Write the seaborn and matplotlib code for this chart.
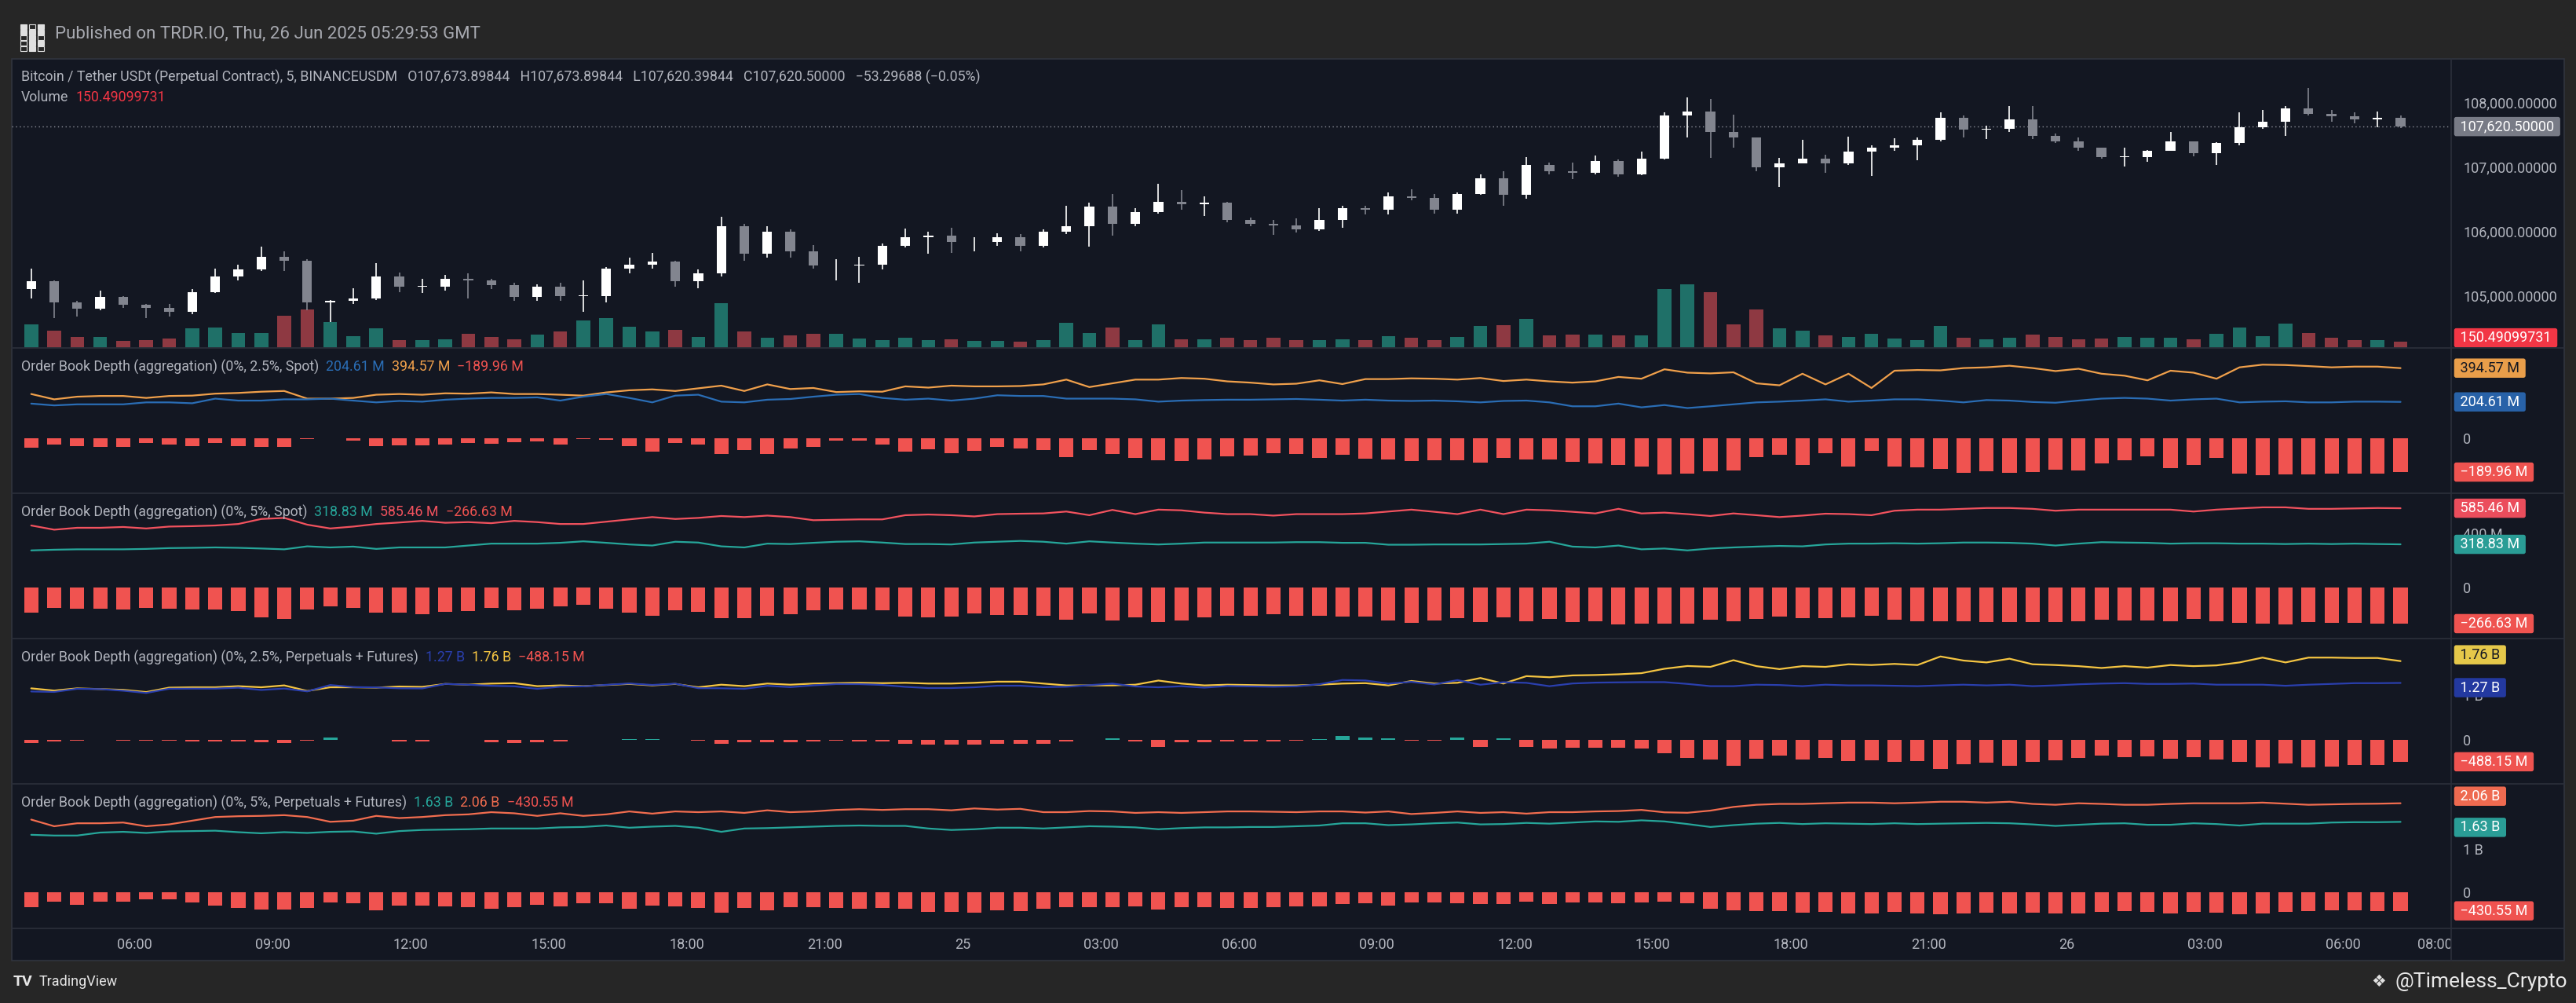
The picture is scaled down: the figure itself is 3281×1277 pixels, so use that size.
import numpy as np
import pandas as pd
import seaborn as sns
import matplotlib
matplotlib.use("Agg")
import matplotlib.pyplot as plt
import matplotlib.dates as mdates
from matplotlib.lines import Line2D
from matplotlib.patches import Rectangle
from matplotlib.transforms import blended_transform_factory, offset_copy

# BTCUSDT perp in 30 minute buckets (24 Jun 03:30 -> 26 Jun 07:30, chart time)
first_open = 105094
close = [105216, 104891, 104789, 104972, 104850, 104809, 104748, 105053,
         105297, 105399, 105602, 105541, 104891, 104911, 104951, 105297,
         105134, 105134, 105256, 105236, 105155, 104972, 105134, 104992,
         104992, 105419, 105480, 105521, 105216, 105338, 106069, 105643,
         105988, 105683, 105460, 105460, 105480, 105765, 105907, 105927,
         105825, 105825, 105907, 105765, 105988, 106069, 106374, 106110,
         106293, 106456, 106415, 106435, 106171, 106110, 106090, 106029,
         106171, 106354, 106334, 106537, 106517, 106334, 106578, 106821,
         106557, 107025, 106923, 106903, 107086, 106882, 107126, 107797,
         107858, 107533, 107451, 106984, 107045, 107126, 107045, 107228,
         107289, 107330, 107411, 107756, 107573, 107582, 107736, 107472,
         107391, 107289, 107147, 107147, 107248, 107391, 107208, 107370,
         107614, 107695, 107899, 107817, 107777, 107736, 107756, 107620.5]
high = [105419, 105236, 104911, 105073, 104992, 104870, 104870, 105094,
        105419, 105480, 105752, 105683, 105561, 104931, 105114, 105500,
        105358, 105256, 105317, 105338, 105256, 105195, 105175, 105195,
        105236, 105439, 105582, 105663, 105541, 105399, 106220, 106110,
        106069, 106029, 105785, 105561, 105602, 105805, 106037, 105988,
        106049, 105907, 105968, 105947, 106029, 106395, 106443, 106578,
        106354, 106728, 106639, 106537, 106456, 106212, 106171, 106191,
        106354, 106395, 106395, 106598, 106647, 106578, 106598, 106882,
        106923, 107147, 107065, 107065, 107167, 107106, 107228, 107838,
        108069, 108049, 107809, 107451, 107134, 107419, 107187, 107460,
        107330, 107439, 107451, 107838, 107790, 107634, 107939, 107939,
        107512, 107451, 107289, 107297, 107256, 107541, 107391, 107378,
        107838, 107878, 107939, 108216, 107878, 107838, 107858, 107797]
low = [104951, 104647, 104667, 104769, 104809, 104647, 104667, 104708,
       105033, 105236, 105378, 105378, 104769, 104586, 104870, 104931,
       105053, 105033, 105073, 104951, 105094, 104911, 104911, 104911,
       104748, 104891, 105338, 105419, 105134, 105114, 105297, 105541,
       105582, 105582, 105419, 105236, 105195, 105399, 105744, 105643,
       105663, 105683, 105765, 105683, 105744, 105947, 105752, 105927,
       106069, 106273, 106334, 106232, 106130, 106069, 105939, 105980,
       106000, 106049, 106252, 106252, 106476, 106273, 106273, 106557,
       106395, 106496, 106882, 106801, 106880, 106842, 106862, 107106,
       107451, 107134, 107289, 106931, 106687, 107045, 106903, 107020,
       106850, 107248, 107094, 107390, 107451, 107431, 107541, 107431,
       107362, 107248, 107126, 107004, 107078, 107248, 107159, 107021,
       107330, 107590, 107472, 107797, 107695, 107675, 107614, 107594]
volume = [4070, 2960, 1850, 1850, 1260, 1330, 1630, 3330,
          3550, 2590, 2590, 5550, 6660, 4440, 2070, 3330,
          1400, 1400, 1480, 2500, 1850, 1480, 2370, 2810,
          4810, 5180, 3700, 2810, 3180, 1850, 7770, 2810,
          1780, 2150, 2500, 2500, 1630, 1330, 1700, 1400,
          1480, 1260, 1260, 1040, 1400, 4290, 2590, 3550,
          1400, 4070, 1550, 1550, 1780, 1400, 1780, 1400,
          1400, 1480, 1400, 2000, 1780, 1400, 1920, 3770,
          3920, 5030, 2150, 2370, 2370, 2220, 2150, 10140,
          10950, 9620, 4140, 6660, 3400, 2960, 2150, 1920,
          2500, 1630, 1400, 3850, 1780, 1550, 1780, 2370,
          1920, 1550, 1630, 1920, 1780, 1780, 1480, 2500,
          3550, 2070, 4220, 2590, 1780, 1330, 1330, 1040]

# order book depth, millions of USD
spot25_bid = [195, 185, 191, 191, 191, 202, 202, 197, 223, 212, 212, 219, 219, 223, 212, 202,
              210, 206, 217, 223, 227, 227, 230, 212, 234, 249, 227, 202, 240, 245, 206, 202,
              217, 221, 234, 245, 249, 227, 217, 223, 212, 223, 242, 238, 238, 223, 223, 223,
              219, 206, 212, 215, 217, 217, 219, 221, 217, 212, 217, 212, 210, 212, 208, 202,
              210, 212, 202, 180, 180, 195, 174, 187, 170, 180, 191, 202, 206, 212, 219, 206,
              212, 219, 219, 212, 202, 215, 212, 204, 200, 212, 223, 227, 223, 212, 219, 223,
              202, 206, 208, 202, 202, 206, 206, 204.61]
spot25_ask = [249, 219, 234, 238, 238, 227, 238, 240, 251, 255, 262, 266, 223, 223, 227, 245,
              249, 245, 253, 251, 258, 249, 249, 245, 240, 258, 270, 275, 266, 281, 296, 266,
              303, 277, 283, 260, 264, 262, 292, 285, 296, 292, 292, 294, 303, 330, 288, 309,
              330, 330, 339, 335, 320, 313, 303, 307, 326, 305, 333, 333, 337, 335, 330, 339,
              322, 330, 320, 313, 320, 345, 335, 388, 369, 365, 371, 309, 298, 363, 303, 363,
              283, 380, 384, 382, 395, 399, 408, 395, 378, 391, 363, 352, 326, 380, 369, 335,
              399, 414, 412, 406, 399, 403, 403, 394.57]
spot5_bid = [274, 279, 282, 282, 282, 285, 291, 293, 296, 293, 288, 282, 304, 296, 302, 285,
             296, 296, 296, 310, 324, 324, 324, 330, 341, 330, 318, 310, 338, 332, 304, 296,
             324, 321, 330, 338, 341, 332, 321, 321, 318, 332, 338, 344, 338, 324, 341, 332,
             324, 318, 324, 332, 332, 332, 332, 335, 335, 330, 330, 316, 316, 318, 318, 318,
             321, 324, 338, 302, 296, 310, 282, 288, 274, 288, 296, 302, 307, 304, 318, 324,
             324, 327, 324, 327, 332, 332, 330, 324, 310, 324, 335, 332, 330, 324, 327, 327,
             324, 324, 321, 324, 321, 324, 321, 318.83]
spot5_ask = [458, 427, 441, 441, 447, 436, 450, 453, 458, 469, 506, 514, 464, 436, 450, 469,
             480, 492, 478, 483, 475, 492, 483, 469, 469, 486, 503, 520, 506, 514, 528, 520,
             531, 520, 497, 500, 503, 503, 534, 539, 534, 525, 542, 545, 547, 561, 534, 573,
             542, 575, 570, 553, 542, 542, 531, 542, 542, 542, 547, 561, 575, 559, 542, 575,
             542, 575, 570, 559, 547, 581, 547, 553, 542, 528, 547, 534, 520, 531, 545, 542,
             534, 567, 575, 575, 581, 587, 587, 581, 567, 575, 575, 575, 575, 575, 561, 575,
             584, 592, 592, 581, 581, 584, 587, 585.46]
perp25_bid = [1081, 1071, 1141, 1134, 1098, 1048, 1142, 1145, 1145, 1165, 1115, 1147, 1083, 1225, 1180, 1172,
              1152, 1149, 1250, 1233, 1208, 1197, 1140, 1187, 1195, 1230, 1260, 1227, 1255, 1155, 1153, 1140,
              1208, 1178, 1218, 1247, 1245, 1227, 1185, 1158, 1158, 1175, 1210, 1210, 1178, 1187, 1222, 1257,
              1193, 1175, 1198, 1167, 1203, 1195, 1187, 1197, 1243, 1338, 1327, 1257, 1296, 1238, 1335, 1232,
              1288, 1274, 1199, 1260, 1279, 1285, 1290, 1290, 1250, 1200, 1200, 1233, 1225, 1200, 1233, 1217,
              1217, 1209, 1200, 1217, 1233, 1217, 1233, 1200, 1217, 1242, 1258, 1267, 1250, 1250, 1258, 1233,
              1233, 1233, 1209, 1233, 1250, 1267, 1267, 1271.85]
perp25_ask = [1151, 1101, 1151, 1134, 1118, 1068, 1167, 1175, 1175, 1200, 1175, 1217, 1093, 1175, 1175, 1167,
              1192, 1184, 1250, 1233, 1258, 1267, 1200, 1217, 1200, 1225, 1250, 1217, 1250, 1175, 1233, 1200,
              1258, 1233, 1258, 1267, 1275, 1267, 1275, 1258, 1258, 1275, 1300, 1300, 1258, 1217, 1217, 1217,
              1233, 1325, 1258, 1217, 1233, 1225, 1217, 1217, 1233, 1258, 1267, 1217, 1316, 1258, 1275, 1382,
              1258, 1424, 1399, 1440, 1449, 1465, 1490, 1589, 1650, 1631, 1780, 1647, 1581, 1647, 1631, 1689,
              1672, 1697, 1672, 1863, 1772, 1730, 1813, 1689, 1672, 1647, 1606, 1647, 1614, 1672, 1647, 1664,
              1730, 1838, 1730, 1838, 1838, 1829, 1829, 1760]
perp5_bid = [1330, 1313, 1313, 1382, 1399, 1373, 1408, 1416, 1425, 1391, 1365, 1391, 1373, 1399, 1408, 1356,
             1416, 1442, 1451, 1459, 1476, 1476, 1476, 1502, 1511, 1545, 1494, 1519, 1536, 1494, 1399, 1476,
             1485, 1502, 1519, 1536, 1545, 1536, 1536, 1476, 1442, 1459, 1494, 1494, 1476, 1502, 1528, 1519,
             1502, 1459, 1485, 1502, 1502, 1511, 1511, 1528, 1545, 1597, 1597, 1554, 1571, 1597, 1614, 1571,
             1579, 1605, 1588, 1614, 1640, 1631, 1665, 1640, 1579, 1511, 1554, 1588, 1605, 1579, 1597, 1588,
             1579, 1597, 1579, 1588, 1597, 1605, 1597, 1571, 1536, 1562, 1588, 1597, 1562, 1562, 1597, 1579,
             1545, 1588, 1588, 1588, 1614, 1622, 1622, 1629.45]
perp5_ask = [1682, 1528, 1597, 1597, 1614, 1528, 1571, 1657, 1742, 1760, 1768, 1785, 1742, 1631, 1657, 1768,
             1717, 1742, 1785, 1803, 1854, 1828, 1768, 1828, 1768, 1803, 1871, 1820, 1871, 1854, 1871, 1837,
             1897, 1854, 1871, 1906, 1923, 1906, 1923, 1923, 1897, 1940, 1914, 1931, 1854, 1854, 1880, 1871,
             1837, 1854, 1837, 1854, 1871, 1871, 1863, 1854, 1871, 1871, 1845, 1871, 1811, 1837, 1871, 1837,
             1854, 1820, 1854, 1854, 1871, 1880, 1906, 1850, 1840, 1890, 1975, 2025, 2045, 2045, 2060, 2075,
             2075, 2060, 2075, 2095, 2095, 2075, 2095, 2045, 2025, 2060, 2045, 2025, 2025, 2045, 2060, 2060,
             2060, 2075, 2050, 2025, 2035, 2045, 2050, 2060]

last_volume = "150.49099731"
tick_hours = [6, 9, 12, 15, 18, 21, 24, 27, 30, 33, 36, 39, 42, 45, 48, 51, 54, 56]
tick_labels = ["06:00", "09:00", "12:00", "15:00", "18:00", "21:00", "25", "03:00", "06:00",
               "09:00", "12:00", "15:00", "18:00", "21:00", "26", "03:00", "06:00", "08:00"]

series = [close, high, low, volume, spot25_bid, spot25_ask, spot5_bid, spot5_ask,
          perp25_bid, perp25_ask, perp5_bid, perp5_ask]
assert all(len(s) == len(close) for s in series), [len(s) for s in series]

# ---------------------------------------------------------------------------
W, H, DPI = 3281, 1277, 100
BG_OUT = "#262626"
BG = "#131722"
SEP = "#2a2e39"
TXT = "#b2b5be"
RED = "#f05350"
TEAL = "#26a69a"
FS = 12.8   # legend / title rows
TAG_FS = 13

sns.set_theme(style="dark", rc={"axes.facecolor": BG, "figure.facecolor": BG_OUT})
plt.rcParams["font.family"] = ["Roboto", "DejaVu Sans"]

fig = plt.figure(figsize=(W / DPI, H / DPI), dpi=DPI, facecolor=BG_OUT)
renderer = fig.canvas.get_renderer()

PL, PR, RIGHT = 15, 3122, 3266   # plot left/right, chart right edge (pixels)


def rect(x0, y0, x1, y1):
    return [x0 / W, 1 - y1 / H, (x1 - x0) / W, (y1 - y0) / H]


def fig_line(x0, y0, x1, y1, color=SEP, lw=1.3):
    fig.add_artist(Line2D([x0 / W, x1 / W], [1 - y0 / H, 1 - y1 / H], color=color, lw=lw,
                          transform=fig.transFigure, zorder=1))


def seq_text(x, y, parts, size=FS, gap=9):
    for s, c in parts:
        t = fig.text(x / W, 1 - y / H, s, color=c, fontsize=size, ha="left", va="center")
        x += t.get_window_extent(renderer).width + gap


# chart backdrop, kept under the axes
fig.patches.append(Rectangle((PL / W, 1 - 1223 / H), (RIGHT - PL) / W, (1223 - 75) / H,
                             transform=fig.transFigure, facecolor=BG, edgecolor="#30343e",
                             lw=1.2, zorder=-10))

base = pd.Timestamp("2025-06-24")
start = pd.date_range("2025-06-24 03:30", periods=len(close), freq="30min")
x = mdates.date2num(start + pd.Timedelta(minutes=15))
BW = 30 / 1440
x_left = mdates.date2num(base + pd.Timedelta(hours=3.328))
x_right = mdates.date2num(base + pd.Timedelta(hours=56.35))


def pane(top, bottom):
    ax = fig.add_axes(rect(PL, top, PR, bottom))
    ax.set_facecolor("none")
    for s in ax.spines.values():
        s.set_visible(False)
    ax.grid(False)
    ax.yaxis.tick_right()
    ax.tick_params(axis="y", length=0, pad=11, labelsize=13, labelcolor=TXT)
    ax.tick_params(axis="x", length=0, labelbottom=False)
    return ax


def tag(ax, y, label, fc, tc="white", dy=0, coords="data"):
    tr = blended_transform_factory(ax.transAxes, ax.transAxes if coords == "axes" else ax.transData)
    if dy:
        tr = offset_copy(tr, fig=fig, y=dy, units="dots")
    ax.text(1 + 7 / (PR - PL), y, " " + label + " ", transform=tr, ha="left", va="center",
            fontsize=TAG_FS, color=tc, clip_on=False, zorder=10,
            bbox=dict(boxstyle="round,pad=0.18,rounding_size=0.15", fc=fc, ec="none"))


def fmt(v):
    s = f"{abs(v) / 1000:.2f} B" if abs(v) >= 1000 else f"{abs(v):.2f} M"
    return ("\u2212" if v < 0 else "") + s


# ---- price pane -----------------------------------------------------------
o = np.array([first_open] + close[:-1], dtype=float)
c = np.array(close, dtype=float)
up = c >= o
cand_col = np.where(up, "#ffffff", "#82858f")

ax_v = pane(75, 443)
ax_v.bar(x, volume, width=BW * 0.6, color=np.where(up, "#1f7068", "#8e3942"), lw=0)
ax_v.set_ylim(0, 50000)
ax_v.set_yticks([])
ax_v.set_xlim(x_left, x_right)

ax_p = pane(75, 443)
ax_p.axhline(close[-1], color="#8c8f99", lw=1, ls=(0, (1, 2.5)), zorder=1)
ax_p.vlines(x, low, high, colors=cand_col, lw=1.2, zorder=2)
ax_p.bar(x, np.maximum(np.abs(c - o), 8), bottom=np.minimum(o, c), width=BW * 0.42,
         color=cand_col, lw=0, zorder=3)
ax_p.set_xlim(x_left, x_right)
ax_p.set_ylim(104183, 108671)
ax_p.set_yticks([105000, 106000, 107000, 108000],
                [f"{v:,.5f}" for v in [105000, 106000, 107000, 108000]])
tag(ax_p, close[-1], f"{close[-1]:,.5f}", "#787b86")
tag(ax_p, 0.035, last_volume, "#f23645", coords="axes")

fig.text(27 / W, 1 - 98 / H,
         "Bitcoin / Tether USDt (Perpetual Contract), 5, BINANCEUSDM   O107,673.89844   H107,673.89844"
         "   L107,620.39844   C107,620.50000   \u221253.29688 (\u22120.05%)",
         color=TXT, fontsize=FS, ha="left", va="center")
seq_text(27, 124, [("Volume", TXT), (last_volume, "#f23645")])

# ---- order book depth panes -----------------------------------------------
# (top, bottom, bid, ask, line colours, tag colours, tag text colours, ylim, ticks, title, tag nudges)
panes = [
    (443, 628, spot25_bid, spot25_ask, "#2a6db5", "#f0a04b", "#2862a8", "#e99e4a", "#131722", "white",
     (-309, 508), [0], ["0"], "Order Book Depth (aggregation) (0%, 2.5%, Spot)", (0, 0)),
    (628, 813, spot5_bid, spot5_ask, TEAL, "#f2525e", "#2a9d96", "#eb4d5c", "white", "white",
     (-377, 696), [0, 400], ["0", "400 M"], "Order Book Depth (aggregation) (0%, 5%, Spot)", (0, 0)),
    (813, 998, perp25_bid, perp25_ask, "#2a3fae", "#f5c542", "#2339a0", "#e5c84a", "#131722", "white",
     (-982, 2263), [0, 1000, 2000], ["0", "1 B", "2 B"],
     "Order Book Depth (aggregation) (0%, 2.5%, Perpetuals + Futures)", (8, -6)),
    (998, 1182, perp5_bid, perp5_ask, TEAL, "#f26d4f", "#2a9d96", "#ee6a50", "white", "white",
     (-836, 2509), [0, 1000], ["0", "1 B"],
     "Order Book Depth (aggregation) (0%, 5%, Perpetuals + Futures)", (9, -7)),
]

for (top, bot, bid, ask, bid_c, ask_c, bid_box, ask_box, ask_tc, bid_tc,
     ylim, ticks, tlabels, title, nudge) in panes:
    ax = pane(top, bot)
    bid = np.asarray(bid, dtype=float)
    ask = np.asarray(ask, dtype=float)
    delta = bid - ask
    ax.bar(x, delta, width=BW * 0.62, color=np.where(delta >= 0, TEAL, RED), lw=0, zorder=2)
    sns.lineplot(x=x, y=ask, ax=ax, color=ask_c, lw=1.6, zorder=3)
    sns.lineplot(x=x, y=bid, ax=ax, color=bid_c, lw=1.6, zorder=3)
    ax.set_xlim(x_left, x_right)
    ax.set_ylim(*ylim)
    ax.set_yticks(ticks, tlabels)
    ax.set_xlabel("")
    ax.set_ylabel("")
    ax.set_xticks([])
    tag(ax, ask[-1], fmt(ask[-1]), ask_box, ask_tc, dy=nudge[0])
    tag(ax, bid[-1], fmt(bid[-1]), bid_box, bid_tc, dy=nudge[1])
    tag(ax, delta[-1], fmt(delta[-1]), "#ef5350")
    seq_text(27, top + 24, [(title, TXT), (fmt(bid[-1]), bid_c), (fmt(ask[-1]), ask_c),
                            (fmt(delta[-1]), RED)])
    fig_line(PL, bot, RIGHT, bot)

fig_line(PL, 443, RIGHT, 443)
fig_line(PR, 75, PR, 1223)

# ---- time axis ------------------------------------------------------------
ax_t = pane(1182, 1223)
ax_t.set_xlim(x_left, x_right)
ax_t.set_ylim(0, 1)
ax_t.set_yticks([])
for hr, lab in zip(tick_hours, tick_labels):
    ax_t.text(mdates.date2num(base + pd.Timedelta(hours=hr)), 0.5, lab, ha="center", va="center",
              fontsize=13, color=TXT, clip_on=True)

# ---- header / footer ------------------------------------------------------
for r, row in enumerate(["101", "111", "010", "011", "010"]):
    for k, ch in enumerate(row):
        fig.patches.append(Rectangle(((26 + k * 11) / W, 1 - (31 + r * 7 + 6) / H), 8 / W, 6 / H,
                                     transform=fig.transFigure, lw=0.8, edgecolor="#e0e0e0",
                                     facecolor="#e0e0e0" if ch == "1" else "none"))
fig.text(70 / W, 1 - 43 / H, "Published on TRDR.IO, Thu, 26 Jun 2025 05:29:53 GMT",
         color="#a7a9b0", fontsize=16, ha="left", va="center")

fig.text(17 / W, 1 - 1250 / H, "TV", color="#e6e6e6", fontsize=14, fontweight="bold",
         ha="left", va="center")
fig.text(50 / W, 1 - 1250 / H, "TradingView", color="#e6e6e6", fontsize=13,
         ha="left", va="center")
fig.text(3270 / W, 1 - 1250 / H, "@Timeless_Crypto", color="#e8e8e8", fontsize=19,
         ha="right", va="center")
fig.text(3030 / W, 1 - 1250 / H, "\u2756", color="#e0e0e0", fontsize=15, ha="center",
         va="center", family="DejaVu Sans")

fig.savefig("out.png", dpi=DPI, facecolor=BG_OUT)
